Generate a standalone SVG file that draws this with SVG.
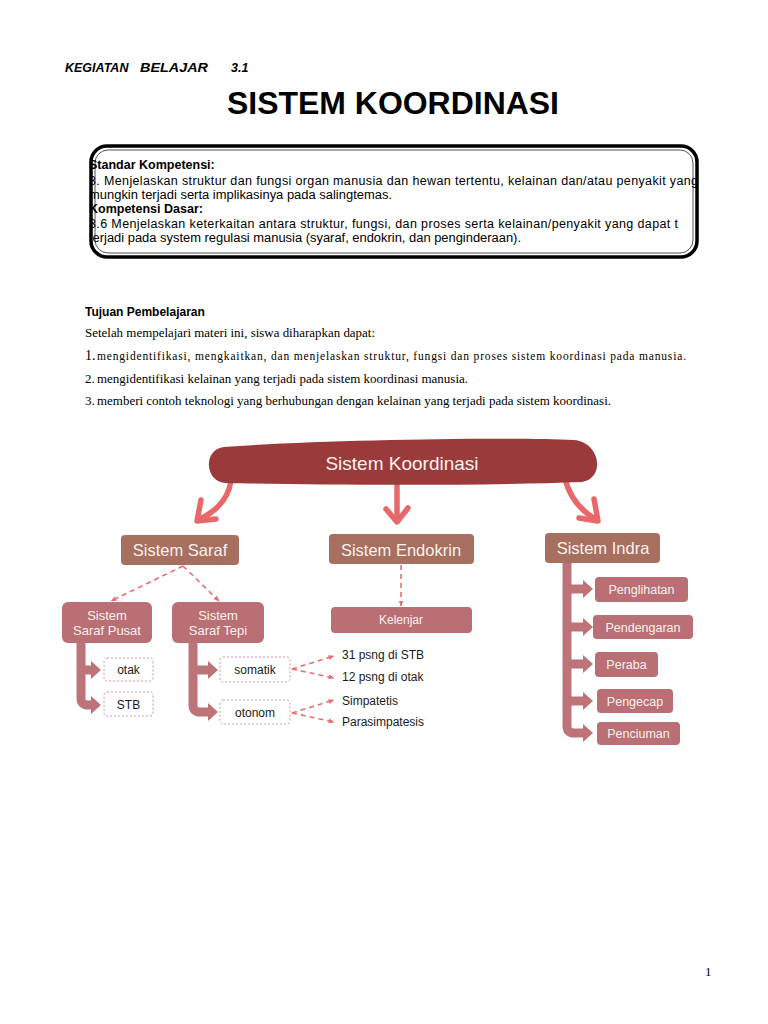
<svg xmlns="http://www.w3.org/2000/svg" width="768" height="1024" viewBox="0 0 768 1024">
<style>
.hdr{font-family:"Liberation Sans",Arial,sans-serif;font-weight:bold;font-style:italic;font-size:12.5px;fill:#000}
.title{font-family:"Liberation Sans",Arial,sans-serif;font-weight:bold;font-size:31px;fill:#000}
.kb{font-family:"Liberation Sans",Arial,sans-serif;font-weight:bold;font-size:12.5px;fill:#000}
.kt{font-family:"Liberation Sans",Arial,sans-serif;font-size:12.5px;fill:#000}
.tb{font-family:"Liberation Sans",Arial,sans-serif;font-weight:bold;font-size:12px;fill:#000}
.tt{font-family:"Liberation Serif","Times New Roman",serif;font-size:11.5px;fill:#000}
.brown{fill:#a66f5e}
.rose{fill:#b96f73}
.wt{font-family:"Liberation Sans",Arial,sans-serif;fill:#fbf1ef;text-anchor:middle}
.dt{font-family:"Liberation Sans",Arial,sans-serif;fill:#1a1a1a;font-size:12px}
.dbox{fill:#fff;stroke:#d4959a;stroke-width:1;stroke-dasharray:2,2}
.dash{fill:none;stroke:#e86e70;stroke-width:1.6;stroke-dasharray:5,4}
.curve{fill:none;stroke:#e8686a;stroke-width:5.5;stroke-linecap:round;stroke-linejoin:round}
.stem{fill:none;stroke:#bd7478;stroke-width:9;stroke-linejoin:round}
.head{fill:#bd7478}
</style>
<defs>
<marker id="dh" viewBox="0 0 10 10" refX="9" refY="5" markerWidth="6" markerHeight="6" orient="auto" markerUnits="userSpaceOnUse">
<path d="M0,1 L10,5 L0,9 Z" fill="#e86e70"/>
</marker>
</defs>

<g id="header">
<text class="hdr" x="65" y="72">KEGIATAN</text>
<text class="hdr" x="140" y="72" textLength="68" lengthAdjust="spacingAndGlyphs">BELAJAR</text>
<text class="hdr" x="231" y="72">3.1</text>
<text class="title" x="227" y="114" textLength="332" lengthAdjust="spacingAndGlyphs">SISTEM KOORDINASI</text>
</g>

<g id="kompetensi">
<rect x="91" y="146" width="606" height="111" rx="16" fill="#fff" stroke="#000" stroke-width="3.5"/>
<rect x="95" y="150" width="598" height="103" rx="13" fill="none" stroke="#555" stroke-width="1"/>
<text class="kb" x="89" y="169">Standar Kompetensi:</text>
<text class="kt" x="89" y="185" textLength="609" lengthAdjust="spacing">3. Menjelaskan struktur dan fungsi organ manusia dan hewan tertentu, kelainan dan/atau penyakit yang</text>
<text class="kt" x="89" y="199" textLength="303" lengthAdjust="spacingAndGlyphs">mungkin terjadi serta implikasinya pada salingtemas.</text>
<text class="kb" x="89" y="213">Kompetensi Dasar:</text>
<text class="kt" x="89" y="228" textLength="589" lengthAdjust="spacing">3.6 Menjelaskan keterkaitan antara struktur, fungsi, dan proses serta kelainan/penyakit yang dapat t</text>
<text class="kt" x="89" y="242" textLength="432" lengthAdjust="spacingAndGlyphs">terjadi pada system regulasi manusia (syaraf, endokrin, dan penginderaan).</text>
</g>

<g id="tujuan">
<text class="tb" x="85" y="316">Tujuan Pembelajaran</text>
<text class="tt" x="85" y="337" textLength="290" lengthAdjust="spacingAndGlyphs">Setelah mempelajari materi ini, siswa diharapkan dapat:</text>
<text class="tt" x="85" y="360"><tspan font-size="14">1.</tspan></text>
<text class="tt" x="97" y="360" textLength="589" lengthAdjust="spacing">mengidentifikasi, mengkaitkan, dan menjelaskan struktur, fungsi dan proses sistem koordinasi pada manusia.</text>
<text class="tt" x="85" y="383"><tspan font-size="13">2.</tspan></text>
<text class="tt" x="97" y="383" textLength="371" lengthAdjust="spacingAndGlyphs">mengidentifikasi kelainan yang terjadi pada sistem koordinasi manusia.</text>
<text class="tt" x="85" y="405"><tspan font-size="13">3.</tspan></text>
<text class="tt" x="97" y="405" textLength="514" lengthAdjust="spacingAndGlyphs">memberi contoh teknologi yang berhubungan dengan kelainan yang terjadi pada sistem koordinasi.</text>
</g>

<g id="connectors">
<path class="curve" d="M231,480 Q228,506 198,520"/>
<polyline class="curve" points="201,500 197,521 216,519"/>
<path class="curve" d="M397,484 L397,520"/>
<polyline class="curve" points="386,509 397,522 408,508"/>
<path class="curve" d="M565,479 Q572,506 597,520"/>
<polyline class="curve" points="594,499 598,521 579,518"/>

<line class="dash" x1="183" y1="566" x2="111" y2="601" marker-end="url(#dh)"/>
<line class="dash" x1="183" y1="566" x2="219" y2="601" marker-end="url(#dh)"/>
<line class="dash" x1="401" y1="565" x2="401" y2="606" marker-end="url(#dh)"/>
<line class="dash" x1="292" y1="669" x2="334" y2="656" marker-end="url(#dh)"/>
<line class="dash" x1="292" y1="669" x2="334" y2="678" marker-end="url(#dh)"/>
<line class="dash" x1="292" y1="713" x2="334" y2="700" marker-end="url(#dh)"/>
<line class="dash" x1="292" y1="713" x2="334" y2="722" marker-end="url(#dh)"/>

<path class="stem" d="M81,640 L81,698 Q81,705 88,705 L93,705 M81,670 L93,670"/>
<polygon class="head" points="91,661 101,670 91,679"/>
<polygon class="head" points="91,696 101,705 91,714"/>
<path class="stem" d="M193,640 L193,705 Q193,712 200,712 L210,712 M193,670 L210,670"/>
<polygon class="head" points="208,661 218,670 208,679"/>
<polygon class="head" points="208,703 218,712 208,721"/>
<path class="stem" d="M567,560 L567,726 Q567,733 574,733 L584,733 M567,589 L584,589 M567,627 L584,627 M567,664 L584,664 M567,701 L584,701"/>
<polygon class="head" points="583,580 593,589 583,598"/>
<polygon class="head" points="583,618 593,627 583,636"/>
<polygon class="head" points="583,655 593,664 583,673"/>
<polygon class="head" points="583,692 593,701 583,710"/>
<polygon class="head" points="583,724 593,733 583,742"/>
</g>

<g id="sistem-koordinasi">
<path d="M224,447 C320,440 500,437 574,440 C600,442 606,478 582,482 C480,486 320,485 226,483 C204,482 203,449 224,447 Z" fill="#9b3a3b"/>
<text class="wt" x="402" y="470" font-size="19">Sistem Koordinasi</text>
</g>

<g id="sistem-saraf">
<rect class="brown" x="121" y="535" width="118" height="30" rx="4"/>
<text class="wt" x="180" y="556" font-size="16.5">Sistem Saraf</text>
</g>
<g id="sistem-endokrin">
<rect class="brown" x="329" y="534" width="145" height="30" rx="4"/>
<text class="wt" x="401" y="556" font-size="16.5">Sistem Endokrin</text>
</g>
<g id="sistem-indra">
<rect class="brown" x="545" y="533" width="115" height="30" rx="4"/>
<text class="wt" x="603" y="554" font-size="16.5">Sistem Indra</text>
</g>

<g id="saraf-pusat">
<rect class="rose" x="62" y="602" width="90" height="41" rx="6"/>
<text class="wt" x="107" y="620" font-size="13">Sistem</text>
<text class="wt" x="107" y="635" font-size="13">Saraf Pusat</text>
</g>
<g id="saraf-tepi">
<rect class="rose" x="172" y="602" width="92" height="41" rx="6"/>
<text class="wt" x="218" y="620" font-size="13">Sistem</text>
<text class="wt" x="218" y="635" font-size="13">Saraf Tepi</text>
</g>
<g id="kelenjar">
<rect class="rose" x="331" y="607" width="141" height="26" rx="4"/>
<text class="wt" x="401" y="624" font-size="12">Kelenjar</text>
</g>

<g id="otak">
<rect class="dbox" x="104" y="658" width="49" height="23" rx="3"/>
<text class="dt" x="128.5" y="674" text-anchor="middle" font-size="12.5">otak</text>
</g>
<g id="stb">
<rect class="dbox" x="104" y="692" width="49" height="24" rx="3"/>
<text class="dt" x="128.5" y="709" text-anchor="middle" font-size="12.5">STB</text>
</g>
<g id="somatik">
<rect class="dbox" x="220" y="657" width="70" height="25" rx="3"/>
<text class="dt" x="255" y="674" text-anchor="middle" font-size="12.5">somatik</text>
</g>
<g id="otonom">
<rect class="dbox" x="220" y="700" width="70" height="24" rx="3"/>
<text class="dt" x="255" y="717" text-anchor="middle" font-size="12.5">otonom</text>
</g>

<g id="labels-saraf-endokrin">
<text class="dt" x="342" y="659">31 psng di STB</text>
<text class="dt" x="342" y="681">12 psng di otak</text>
<text class="dt" x="342" y="705">Simpatetis</text>
<text class="dt" x="342" y="726">Parasimpatesis</text>
</g>

<g id="penglihatan">
<rect class="rose" x="595" y="577" width="93" height="25" rx="4"/>
<text class="wt" x="641.5" y="594" font-size="12.5">Penglihatan</text>
</g>
<g id="pendengaran">
<rect class="rose" x="593" y="615" width="100" height="24" rx="4"/>
<text class="wt" x="643" y="632" font-size="12.5">Pendengaran</text>
</g>
<g id="peraba">
<rect class="rose" x="595" y="652" width="63" height="25" rx="4"/>
<text class="wt" x="626.5" y="669" font-size="12.5">Peraba</text>
</g>
<g id="pengecap">
<rect class="rose" x="597" y="689" width="76" height="24" rx="4"/>
<text class="wt" x="635" y="706" font-size="12.5">Pengecap</text>
</g>
<g id="penciuman">
<rect class="rose" x="597" y="722" width="83" height="23" rx="4"/>
<text class="wt" x="638.5" y="738" font-size="12.5">Penciuman</text>
</g>

<text x="705" y="976" font-family="'Liberation Serif','Times New Roman',serif" font-size="13" fill="#000">1</text>
</svg>
